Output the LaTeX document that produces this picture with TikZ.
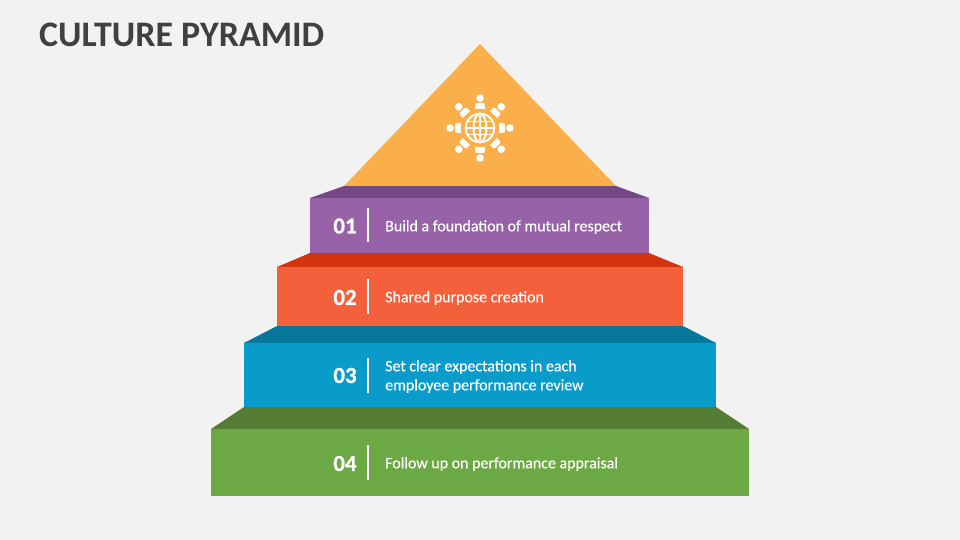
\documentclass[tikz,border=0pt]{standalone}
\usepackage{fontspec}
\setmainfont{Carlito}
\definecolor{bg}{HTML}{F2F2F2}
\definecolor{ttl}{HTML}{404040}
\definecolor{apex}{HTML}{FBAF4A}
\definecolor{purF}{HTML}{9862A8}
\definecolor{purT}{HTML}{744883}
\definecolor{redF}{HTML}{F45F3C}
\definecolor{redT}{HTML}{D4330F}
\definecolor{bluF}{HTML}{099CCB}
\definecolor{bluT}{HTML}{07769B}
\definecolor{grnF}{HTML}{6CA843}
\definecolor{grnT}{HTML}{547D33}
\tikzset{
  numlabel/.style={text=white,font=\fontsize{23}{25}\selectfont\bfseries\addfontfeature{FakeBold=0.6},anchor=center,inner sep=0pt},
  desc/.style={text=white,font=\fontsize{15.95}{19}\selectfont\addfontfeature{FakeBold=0.4},anchor=west,align=left,inner sep=0pt},
  divider/.style={white,line width=1.3pt},
  icon/.style={fill=white,draw=none},
  iconline/.style={white,line width=1.9pt}
}
\begin{document}
\begin{tikzpicture}[x=1pt,y=-1pt]
\useasboundingbox (0,0) rectangle (960,540);
\fill[bg] (0,0) rectangle (960,540);
\node[anchor=west,inner sep=0pt,text=ttl,font=\fontsize{35.9}{38}\selectfont\bfseries] (title) at (39,34.5) {CULTURE PYRAMID};
% apex
\fill[apex] (480,44) -- (616,186) -- (344,186) -- cycle;
% tiers
\fill[purT] (344,186) -- (616,186) -- (649,198) -- (310,198) -- cycle;
\fill[purF] (310,198) rectangle (649,253);
\fill[redT] (310,253) -- (649,253) -- (683,267) -- (277,267) -- cycle;
\fill[redF] (277,267) rectangle (683,326);
\fill[bluT] (277,326) -- (683,326) -- (716,343) -- (244,343) -- cycle;
\fill[bluF] (244,343) rectangle (716,407);
\fill[grnT] (244,407) -- (716,407) -- (749,429) -- (211,429) -- cycle;
\fill[grnF] (211,429) rectangle (749,496);
% icon
\begin{scope}[shift={(480,128)}]
  \foreach \a in {0,45,...,315}{
    \begin{scope}[rotate=\a]
      \fill[icon] (0,-30) circle (3.8);
      \fill[icon] (-4.8,-19.2) -- (-4.8,-23) .. controls (-4.8,-24.6) and (-3.6,-25) .. (-3,-25) -- (3,-25) .. controls (3.6,-25) and (4.8,-24.6) .. (4.8,-23) -- (4.8,-19.2) -- cycle;
    \end{scope}
  }
  \draw[iconline] (0,0) circle (14.3);
  \draw[iconline] (0,0) ellipse (6.5 and 14.3);
  \draw[iconline] (0,-14.3) -- (0,14.3);
  \draw[iconline] (-14.3,0) -- (14.3,0);
  \draw[iconline] (-12.4,-6.5) -- (12.4,-6.5);
  \draw[iconline] (-12.4,6.5) -- (12.4,6.5);
\end{scope}
% rows
\node[numlabel] (n1) at (345,226) {01};
\node[numlabel] (n2) at (345,297.5) {02};
\node[numlabel] (n3) at (345,375.5) {03};
\node[numlabel] (n4) at (345,463.5) {04};
\draw[divider] (368,208) -- (368,242);
\draw[divider] (368,279) -- (368,313.5);
\draw[divider] (368,358) -- (368,392.5);
\draw[divider] (368,445) -- (368,479.5);
\node[desc] (t1) at (385,227) {Build a foundation of mutual respect};
\node[desc] (t2) at (385,298) {Shared purpose creation};
\node[desc] (t3) at (385,376.5) {Set clear expectations in each\\employee performance review};
\node[desc] (t4) at (385,464) {Follow up on performance appraisal};
\end{tikzpicture}
\end{document}
